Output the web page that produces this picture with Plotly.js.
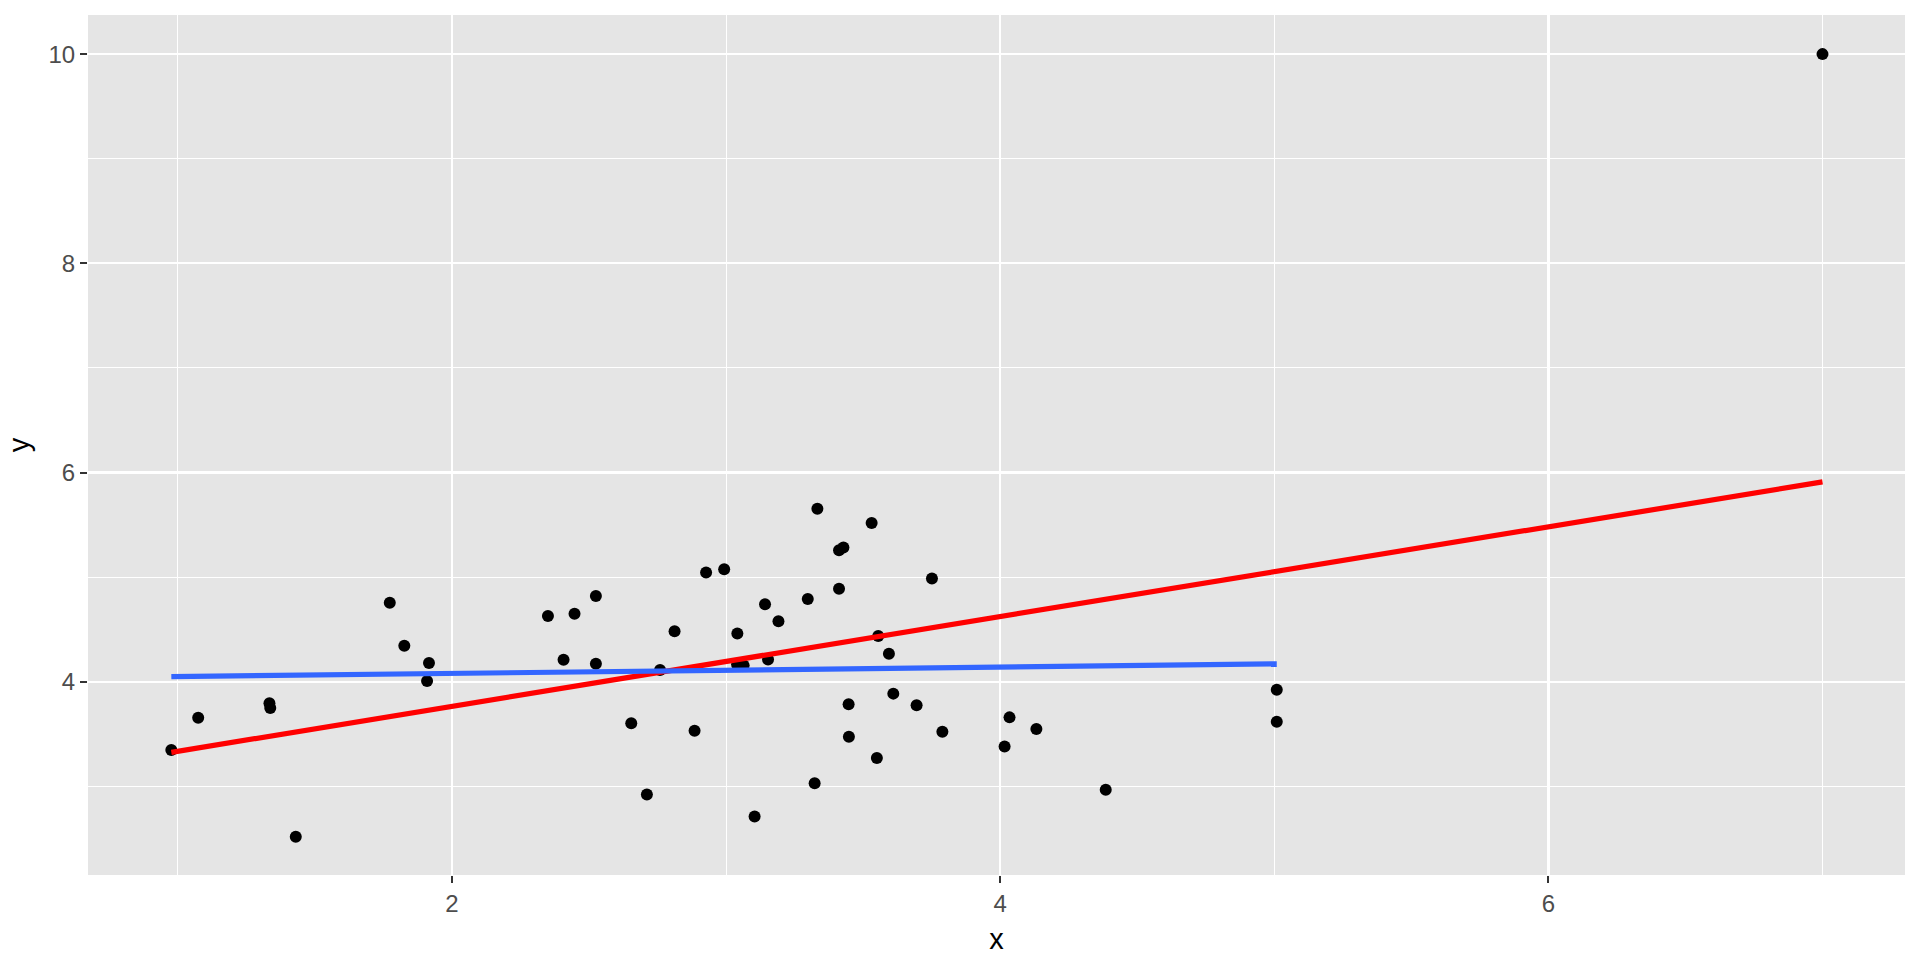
<!DOCTYPE html>
<html>
<head>
<meta charset="utf-8">
<script src="https://cdn.plot.ly/plotly-3.0.1.min.js"></script>
<style>
  html, body { margin: 0; padding: 0; background: #ffffff; }
  #chart { width: 1920px; height: 960px; }
</style>
</head>
<body>
<div id="chart"></div>
<script>
// Scatter points
const xValues = [
  0.976, 1.074, 1.334, 1.337, 1.430, 1.773, 1.826, 1.916, 1.909, 2.350,
  2.447, 2.407, 2.525, 2.525, 2.654, 2.711, 2.759, 2.812, 2.885, 2.927,
  2.993, 3.041, 3.040, 3.064, 3.104, 3.142, 3.153, 3.191, 3.298, 3.323,
  3.333, 3.412, 3.412, 3.428, 3.447, 3.448, 3.531, 3.550, 3.555, 3.594,
  3.610, 3.695, 3.751, 3.789, 4.016, 4.034, 4.132, 4.385, 5.009, 5.009,
  7.000
];
const yValues = [
  3.347, 3.656, 3.793, 3.748, 2.518, 4.755, 4.344, 4.178, 4.006, 4.628,
  4.650, 4.210, 4.819, 4.172, 3.603, 2.921, 4.111, 4.483, 3.530, 5.044,
  5.076, 4.460, 4.165, 4.156, 2.711, 4.740, 4.213, 4.578, 4.790, 3.029,
  5.654, 4.889, 5.257, 5.283, 3.784, 3.473, 5.517, 3.270, 4.438, 4.267,
  3.886, 3.775, 4.986, 3.522, 3.380, 3.659, 3.548, 2.968, 3.924, 3.617,
  10.000
];

// Fitted lines (end points)
const fitAllX = [0.976, 7.000];
const fitAllY = [3.325, 5.910];
const fitSubsetX = [0.976, 5.009];
const fitSubsetY = [4.048, 4.171];

// Axis ticks
const xTickValues = [2, 4, 6];
const xTickLabels = ['2', '4', '6'];
const xMinorValues = [1, 3, 5, 7];
const yTickValues = [4, 6, 8, 10];
const yTickLabels = ['4', '6', '8', '10'];
const yMinorValues = [3, 5, 7, 9];

const FONT = '"Liberation Sans", Arial, Helvetica, sans-serif';

const traces = [
  {
    type: 'scatter', mode: 'markers', x: xValues, y: yValues,
    marker: { color: '#000000', size: 12, line: { width: 0 } },
    hoverinfo: 'skip'
  },
  {
    type: 'scatter', mode: 'lines', x: fitAllX, y: fitAllY,
    line: { color: '#FF0000', width: 5.2 }, hoverinfo: 'skip'
  },
  {
    type: 'scatter', mode: 'lines', x: fitSubsetX, y: fitSubsetY,
    line: { color: '#3366FF', width: 5.2 }, hoverinfo: 'skip'
  }
];

function axisBase() {
  return {
    ticks: 'outside', ticklen: 7, tickwidth: 2, tickcolor: '#333333',
    tickfont: { family: FONT, size: 24, color: '#4D4D4D' },
    showgrid: true, gridcolor: '#FFFFFF', gridwidth: 2.2,
    zeroline: false, showline: false, automargin: false,
    tickmode: 'array'
  };
}

const xaxis = Object.assign(axisBase(), {
  range: [0.672, 7.301],
  tickvals: xTickValues, ticktext: xTickLabels,
  minor: { tickmode: 'array', tickvals: xMinorValues, showgrid: true, gridcolor: '#FFFFFF', gridwidth: 1.1, ticks: '' },
  title: { text: 'x', font: { family: FONT, size: 29, color: '#000000' }, standoff: 12 }
});
const yaxis = Object.assign(axisBase(), {
  range: [2.152, 10.374],
  tickvals: yTickValues, ticktext: yTickLabels,
  minor: { tickmode: 'array', tickvals: yMinorValues, showgrid: true, gridcolor: '#FFFFFF', gridwidth: 1.1, ticks: '' },
  title: { text: 'y', font: { family: FONT, size: 29, color: '#000000' }, standoff: 10 }
});

const layout = {
  width: 1920, height: 960,
  paper_bgcolor: '#FFFFFF', plot_bgcolor: '#E5E5E5',
  margin: { l: 88, r: 15, t: 15, b: 85, pad: 0 },
  showlegend: false,
  font: { family: FONT },
  xaxis: xaxis, yaxis: yaxis
};

Plotly.newPlot('chart', traces, layout, { staticPlot: true, displayModeBar: false });
</script>
</body>
</html>
